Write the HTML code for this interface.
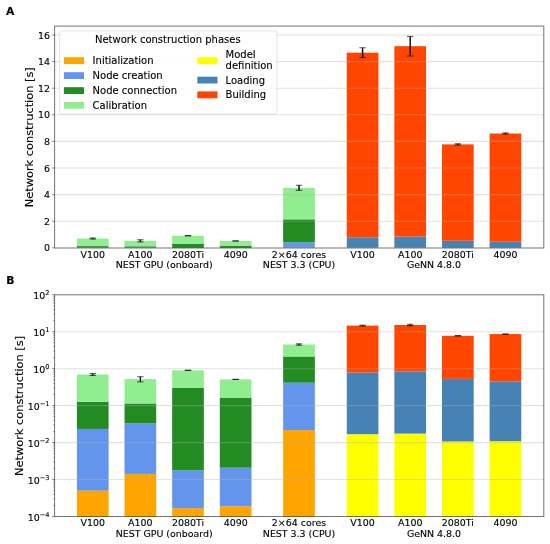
<!DOCTYPE html>
<html lang="en">
<head>
<meta charset="utf-8">
<title>Network construction phases</title>
<style>
html,body{margin:0;padding:0;background:#fff;}
body{width:550px;height:544px;overflow:hidden;}
svg{display:block;filter:blur(0.3px);}
text{font-family:"DejaVu Sans", "Liberation Sans", sans-serif;stroke:#000;stroke-width:0.12px;}
</style>
</head>
<body>
<svg width="550" height="544" viewBox="0 0 550 544" font-family='"DejaVu Sans", "Liberation Sans", sans-serif' fill="#000">
<rect width="550" height="544" fill="#fff"/>
<g id="top">
<rect x="76.90" y="247.79" width="31.70" height="0.01" fill="#FFA500" />
<rect x="76.90" y="247.49" width="31.70" height="0.30" fill="#6495ED" />
<rect x="76.90" y="246.11" width="31.70" height="1.38" fill="#228B22" />
<rect x="76.90" y="238.53" width="31.70" height="7.58" fill="#90EE90" />
<rect x="124.50" y="247.78" width="31.70" height="0.02" fill="#FFA500" />
<rect x="124.50" y="247.36" width="31.70" height="0.42" fill="#6495ED" />
<rect x="124.50" y="246.28" width="31.70" height="1.08" fill="#228B22" />
<rect x="124.50" y="240.84" width="31.70" height="5.44" fill="#90EE90" />
<rect x="172.15" y="247.80" width="31.70" height="0.00" fill="#FFA500" />
<rect x="172.15" y="247.78" width="31.70" height="0.02" fill="#6495ED" />
<rect x="172.15" y="243.73" width="31.70" height="4.05" fill="#228B22" />
<rect x="172.15" y="235.76" width="31.70" height="7.97" fill="#90EE90" />
<rect x="219.80" y="247.80" width="31.70" height="0.00" fill="#FFA500" />
<rect x="219.80" y="247.77" width="31.70" height="0.03" fill="#6495ED" />
<rect x="219.80" y="245.64" width="31.70" height="2.13" fill="#228B22" />
<rect x="219.80" y="240.97" width="31.70" height="4.67" fill="#90EE90" />
<rect x="283.15" y="247.51" width="31.70" height="0.29" fill="#FFA500" />
<rect x="283.15" y="242.24" width="31.70" height="5.27" fill="#6495ED" />
<rect x="283.15" y="219.35" width="31.70" height="22.89" fill="#228B22" />
<rect x="283.15" y="187.80" width="31.70" height="31.55" fill="#90EE90" />
<rect x="346.75" y="247.58" width="31.70" height="0.22" fill="#FFFF00" />
<rect x="346.75" y="237.30" width="31.70" height="10.27" fill="#4682B4" />
<rect x="346.75" y="52.70" width="31.70" height="184.60" fill="#FF4500" />
<rect x="394.35" y="247.57" width="31.70" height="0.23" fill="#FFFF00" />
<rect x="394.35" y="236.56" width="31.70" height="11.01" fill="#4682B4" />
<rect x="394.35" y="46.20" width="31.70" height="190.36" fill="#FF4500" />
<rect x="442.00" y="247.66" width="31.70" height="0.14" fill="#FFFF00" />
<rect x="442.00" y="240.76" width="31.70" height="6.90" fill="#4682B4" />
<rect x="442.00" y="144.40" width="31.70" height="96.36" fill="#FF4500" />
<rect x="489.60" y="247.65" width="31.70" height="0.15" fill="#FFFF00" />
<rect x="489.60" y="241.73" width="31.70" height="5.92" fill="#4682B4" />
<rect x="489.60" y="133.50" width="31.70" height="108.23" fill="#FF4500" />
<line x1="54.60" y1="221.20" x2="543.80" y2="221.20" stroke="#b0b0b0" stroke-width="1.1" stroke-opacity="0.37"/>
<line x1="54.60" y1="194.60" x2="543.80" y2="194.60" stroke="#b0b0b0" stroke-width="1.1" stroke-opacity="0.37"/>
<line x1="54.60" y1="168.00" x2="543.80" y2="168.00" stroke="#b0b0b0" stroke-width="1.1" stroke-opacity="0.37"/>
<line x1="54.60" y1="141.40" x2="543.80" y2="141.40" stroke="#b0b0b0" stroke-width="1.1" stroke-opacity="0.37"/>
<line x1="54.60" y1="114.80" x2="543.80" y2="114.80" stroke="#b0b0b0" stroke-width="1.1" stroke-opacity="0.37"/>
<line x1="54.60" y1="88.20" x2="543.80" y2="88.20" stroke="#b0b0b0" stroke-width="1.1" stroke-opacity="0.37"/>
<line x1="54.60" y1="61.60" x2="543.80" y2="61.60" stroke="#b0b0b0" stroke-width="1.1" stroke-opacity="0.37"/>
<line x1="54.60" y1="35.00" x2="543.80" y2="35.00" stroke="#b0b0b0" stroke-width="1.1" stroke-opacity="0.37"/>
<line x1="92.75" y1="239.07" x2="92.75" y2="238.00" stroke="#000" stroke-width="1.4" />
<line x1="89.55" y1="239.07" x2="95.95" y2="239.07" stroke="#000" stroke-width="0.8" stroke-opacity="0.85"/>
<line x1="89.55" y1="238.00" x2="95.95" y2="238.00" stroke="#000" stroke-width="0.8" stroke-opacity="0.85"/>
<line x1="140.35" y1="241.93" x2="140.35" y2="239.75" stroke="#000" stroke-width="1.4" />
<line x1="137.15" y1="241.93" x2="143.55" y2="241.93" stroke="#000" stroke-width="0.8" stroke-opacity="0.85"/>
<line x1="137.15" y1="239.75" x2="143.55" y2="239.75" stroke="#000" stroke-width="0.8" stroke-opacity="0.85"/>
<line x1="184.80" y1="235.84" x2="191.20" y2="235.84" stroke="#000" stroke-width="0.8" stroke-opacity="0.85"/>
<line x1="184.80" y1="235.68" x2="191.20" y2="235.68" stroke="#000" stroke-width="0.8" stroke-opacity="0.85"/>
<line x1="232.45" y1="241.03" x2="238.85" y2="241.03" stroke="#000" stroke-width="0.8" stroke-opacity="0.85"/>
<line x1="232.45" y1="240.92" x2="238.85" y2="240.92" stroke="#000" stroke-width="0.8" stroke-opacity="0.85"/>
<line x1="299.00" y1="190.33" x2="299.00" y2="185.27" stroke="#000" stroke-width="1.4" />
<line x1="295.80" y1="190.33" x2="302.20" y2="190.33" stroke="#000" stroke-width="0.8" stroke-opacity="0.85"/>
<line x1="295.80" y1="185.27" x2="302.20" y2="185.27" stroke="#000" stroke-width="0.8" stroke-opacity="0.85"/>
<line x1="362.60" y1="57.62" x2="362.60" y2="47.78" stroke="#000" stroke-width="1.4" />
<line x1="359.40" y1="57.62" x2="365.80" y2="57.62" stroke="#000" stroke-width="0.8" stroke-opacity="0.85"/>
<line x1="359.40" y1="47.78" x2="365.80" y2="47.78" stroke="#000" stroke-width="0.8" stroke-opacity="0.85"/>
<line x1="410.20" y1="56.00" x2="410.20" y2="36.40" stroke="#000" stroke-width="1.4" />
<line x1="407.00" y1="56.00" x2="413.40" y2="56.00" stroke="#000" stroke-width="0.8" stroke-opacity="0.85"/>
<line x1="407.00" y1="36.40" x2="413.40" y2="36.40" stroke="#000" stroke-width="0.8" stroke-opacity="0.85"/>
<line x1="457.85" y1="145.06" x2="457.85" y2="143.74" stroke="#000" stroke-width="1.4" />
<line x1="454.65" y1="145.06" x2="461.05" y2="145.06" stroke="#000" stroke-width="0.8" stroke-opacity="0.85"/>
<line x1="454.65" y1="143.74" x2="461.05" y2="143.74" stroke="#000" stroke-width="0.8" stroke-opacity="0.85"/>
<line x1="505.45" y1="134.10" x2="505.45" y2="132.90" stroke="#000" stroke-width="1.4" />
<line x1="502.25" y1="134.10" x2="508.65" y2="134.10" stroke="#000" stroke-width="0.8" stroke-opacity="0.85"/>
<line x1="502.25" y1="132.90" x2="508.65" y2="132.90" stroke="#000" stroke-width="0.8" stroke-opacity="0.85"/>
<line x1="52.20" y1="247.80" x2="54.60" y2="247.80" stroke="#000" stroke-width="0.8" stroke-opacity="0.6"/>
<text x="50.10" y="251.40" font-size="9.45" text-anchor="end" >0</text>
<line x1="52.20" y1="221.20" x2="54.60" y2="221.20" stroke="#000" stroke-width="0.8" stroke-opacity="0.6"/>
<text x="50.10" y="224.80" font-size="9.45" text-anchor="end" >2</text>
<line x1="52.20" y1="194.60" x2="54.60" y2="194.60" stroke="#000" stroke-width="0.8" stroke-opacity="0.6"/>
<text x="50.10" y="198.20" font-size="9.45" text-anchor="end" >4</text>
<line x1="52.20" y1="168.00" x2="54.60" y2="168.00" stroke="#000" stroke-width="0.8" stroke-opacity="0.6"/>
<text x="50.10" y="171.60" font-size="9.45" text-anchor="end" >6</text>
<line x1="52.20" y1="141.40" x2="54.60" y2="141.40" stroke="#000" stroke-width="0.8" stroke-opacity="0.6"/>
<text x="50.10" y="145.00" font-size="9.45" text-anchor="end" >8</text>
<line x1="52.20" y1="114.80" x2="54.60" y2="114.80" stroke="#000" stroke-width="0.8" stroke-opacity="0.6"/>
<text x="50.10" y="118.40" font-size="9.45" text-anchor="end" >10</text>
<line x1="52.20" y1="88.20" x2="54.60" y2="88.20" stroke="#000" stroke-width="0.8" stroke-opacity="0.6"/>
<text x="50.10" y="91.80" font-size="9.45" text-anchor="end" >12</text>
<line x1="52.20" y1="61.60" x2="54.60" y2="61.60" stroke="#000" stroke-width="0.8" stroke-opacity="0.6"/>
<text x="50.10" y="65.20" font-size="9.45" text-anchor="end" >14</text>
<line x1="52.20" y1="35.00" x2="54.60" y2="35.00" stroke="#000" stroke-width="0.8" stroke-opacity="0.6"/>
<text x="50.10" y="38.60" font-size="9.45" text-anchor="end" >16</text>
<rect x="54.60" y="26.10" width="489.20" height="221.90" fill="none" stroke="#000" stroke-width="1.0" stroke-opacity="0.55"/>
</g>
<rect x="59.7" y="30.9" width="217.20" height="83.10" rx="2" ry="2" fill="#fff" fill-opacity="0.87" stroke="#ccc" stroke-opacity="0.5" stroke-width="1"/>
<text x="167.80" y="42.80" font-size="10" text-anchor="middle" >Network construction phases</text>
<rect x="63.90" y="57.20" width="20.10" height="6.80" fill="#FFA500" />
<text x="92.60" y="63.90" font-size="10" text-anchor="start" >Initialization</text>
<rect x="63.90" y="72.20" width="20.10" height="6.80" fill="#6495ED" />
<text x="92.60" y="78.90" font-size="10" text-anchor="start" >Node creation</text>
<rect x="63.90" y="87.20" width="20.10" height="6.80" fill="#228B22" />
<text x="92.60" y="93.90" font-size="10" text-anchor="start" >Node connection</text>
<rect x="63.90" y="101.90" width="20.10" height="6.80" fill="#90EE90" />
<text x="92.60" y="108.60" font-size="10" text-anchor="start" >Calibration</text>
<rect x="197.30" y="57.30" width="20.20" height="6.70" fill="#FFFF00" />
<text x="225.60" y="57.60" font-size="10" text-anchor="start" >Model</text>
<text x="225.60" y="69.00" font-size="10" text-anchor="start" >definition</text>
<rect x="197.30" y="76.70" width="20.20" height="6.80" fill="#4682B4" />
<text x="225.60" y="83.50" font-size="10" text-anchor="start" >Loading</text>
<rect x="197.30" y="91.40" width="20.20" height="6.90" fill="#FF4500" />
<text x="225.60" y="98.30" font-size="10" text-anchor="start" >Building</text>
<text x="92.75" y="257.60" font-size="9.45" text-anchor="middle" >V100</text>
<text x="140.35" y="257.60" font-size="9.45" text-anchor="middle" >A100</text>
<text x="188.00" y="257.60" font-size="9.45" text-anchor="middle" >2080Ti</text>
<text x="235.65" y="257.60" font-size="9.45" text-anchor="middle" >4090</text>
<text x="299.00" y="257.60" font-size="9.45" text-anchor="middle" >2×64 cores</text>
<text x="362.60" y="257.60" font-size="9.45" text-anchor="middle" >V100</text>
<text x="410.20" y="257.60" font-size="9.45" text-anchor="middle" >A100</text>
<text x="457.85" y="257.60" font-size="9.45" text-anchor="middle" >2080Ti</text>
<text x="505.45" y="257.60" font-size="9.45" text-anchor="middle" >4090</text>
<text x="164.18" y="268.40" font-size="9.45" text-anchor="middle" >NEST GPU (onboard)</text>
<text x="299.00" y="268.40" font-size="9.45" text-anchor="middle" >NEST 3.3 (CPU)</text>
<text x="434.02" y="268.40" font-size="9.45" text-anchor="middle" >GeNN 4.8.0</text>
<text transform="translate(32.6,137.25) rotate(-90)" font-size="11.36" text-anchor="middle">Network construction [s]</text>
<text x="6.08" y="15.2" font-size="10.8" font-weight="bold">A</text>
<text x="6.3" y="283.9" font-size="10.8" font-weight="bold">B</text>
<g id="bottom">
<rect x="76.90" y="490.70" width="31.70" height="25.80" fill="#FFA500" />
<rect x="76.90" y="428.95" width="31.70" height="61.75" fill="#6495ED" />
<rect x="76.90" y="401.80" width="31.70" height="27.15" fill="#228B22" />
<rect x="76.90" y="374.50" width="31.70" height="27.30" fill="#90EE90" />
<rect x="124.50" y="473.90" width="31.70" height="42.60" fill="#FFA500" />
<rect x="124.50" y="423.30" width="31.70" height="50.60" fill="#6495ED" />
<rect x="124.50" y="403.50" width="31.70" height="19.80" fill="#228B22" />
<rect x="124.50" y="379.10" width="31.70" height="24.40" fill="#90EE90" />
<rect x="172.15" y="508.10" width="31.70" height="8.40" fill="#FFA500" />
<rect x="172.15" y="470.30" width="31.70" height="37.80" fill="#6495ED" />
<rect x="172.15" y="387.70" width="31.70" height="82.60" fill="#228B22" />
<rect x="172.15" y="370.30" width="31.70" height="17.40" fill="#90EE90" />
<rect x="219.80" y="506.30" width="31.70" height="10.20" fill="#FFA500" />
<rect x="219.80" y="467.70" width="31.70" height="38.60" fill="#6495ED" />
<rect x="219.80" y="397.90" width="31.70" height="69.80" fill="#228B22" />
<rect x="219.80" y="379.40" width="31.70" height="18.50" fill="#90EE90" />
<rect x="283.15" y="430.10" width="31.70" height="86.40" fill="#FFA500" />
<rect x="283.15" y="382.70" width="31.70" height="47.40" fill="#6495ED" />
<rect x="283.15" y="356.50" width="31.70" height="26.20" fill="#228B22" />
<rect x="283.15" y="344.50" width="31.70" height="12.00" fill="#90EE90" />
<rect x="346.75" y="434.20" width="31.70" height="82.30" fill="#FFFF00" />
<rect x="346.75" y="372.50" width="31.70" height="61.70" fill="#4682B4" />
<rect x="346.75" y="325.60" width="31.70" height="46.90" fill="#FF4500" />
<rect x="394.35" y="433.60" width="31.70" height="82.90" fill="#FFFF00" />
<rect x="394.35" y="371.40" width="31.70" height="62.20" fill="#4682B4" />
<rect x="394.35" y="325.00" width="31.70" height="46.40" fill="#FF4500" />
<rect x="442.00" y="441.50" width="31.70" height="75.00" fill="#FFFF00" />
<rect x="442.00" y="378.90" width="31.70" height="62.60" fill="#4682B4" />
<rect x="442.00" y="335.80" width="31.70" height="43.10" fill="#FF4500" />
<rect x="489.60" y="441.20" width="31.70" height="75.30" fill="#FFFF00" />
<rect x="489.60" y="381.30" width="31.70" height="59.90" fill="#4682B4" />
<rect x="489.60" y="334.10" width="31.70" height="47.20" fill="#FF4500" />
<line x1="54.60" y1="479.55" x2="543.80" y2="479.55" stroke="#b0b0b0" stroke-width="1.1" stroke-opacity="0.37"/>
<line x1="54.60" y1="442.60" x2="543.80" y2="442.60" stroke="#b0b0b0" stroke-width="1.1" stroke-opacity="0.37"/>
<line x1="54.60" y1="405.65" x2="543.80" y2="405.65" stroke="#b0b0b0" stroke-width="1.1" stroke-opacity="0.37"/>
<line x1="54.60" y1="368.70" x2="543.80" y2="368.70" stroke="#b0b0b0" stroke-width="1.1" stroke-opacity="0.37"/>
<line x1="54.60" y1="331.75" x2="543.80" y2="331.75" stroke="#b0b0b0" stroke-width="1.1" stroke-opacity="0.37"/>
<line x1="92.75" y1="375.45" x2="92.75" y2="373.60" stroke="#000" stroke-width="1.3" />
<line x1="89.55" y1="375.45" x2="95.95" y2="375.45" stroke="#000" stroke-width="0.8" stroke-opacity="0.85"/>
<line x1="89.55" y1="373.60" x2="95.95" y2="373.60" stroke="#000" stroke-width="0.8" stroke-opacity="0.85"/>
<line x1="140.35" y1="381.84" x2="140.35" y2="376.76" stroke="#000" stroke-width="1.3" />
<line x1="137.15" y1="381.84" x2="143.55" y2="381.84" stroke="#000" stroke-width="0.8" stroke-opacity="0.85"/>
<line x1="137.15" y1="376.76" x2="143.55" y2="376.76" stroke="#000" stroke-width="0.8" stroke-opacity="0.85"/>
<line x1="184.80" y1="370.41" x2="191.20" y2="370.41" stroke="#000" stroke-width="0.8" stroke-opacity="0.85"/>
<line x1="184.80" y1="370.19" x2="191.20" y2="370.19" stroke="#000" stroke-width="0.8" stroke-opacity="0.85"/>
<line x1="232.45" y1="379.53" x2="238.85" y2="379.53" stroke="#000" stroke-width="0.8" stroke-opacity="0.85"/>
<line x1="232.45" y1="379.28" x2="238.85" y2="379.28" stroke="#000" stroke-width="0.8" stroke-opacity="0.85"/>
<line x1="299.00" y1="345.19" x2="299.00" y2="343.84" stroke="#000" stroke-width="1.3" />
<line x1="295.80" y1="345.19" x2="302.20" y2="345.19" stroke="#000" stroke-width="0.8" stroke-opacity="0.85"/>
<line x1="295.80" y1="343.84" x2="302.20" y2="343.84" stroke="#000" stroke-width="0.8" stroke-opacity="0.85"/>
<line x1="362.60" y1="326.01" x2="362.60" y2="325.20" stroke="#000" stroke-width="1.3" />
<line x1="359.40" y1="326.01" x2="365.80" y2="326.01" stroke="#000" stroke-width="0.8" stroke-opacity="0.85"/>
<line x1="359.40" y1="325.20" x2="365.80" y2="325.20" stroke="#000" stroke-width="0.8" stroke-opacity="0.85"/>
<line x1="410.20" y1="325.80" x2="410.20" y2="324.24" stroke="#000" stroke-width="1.3" />
<line x1="407.00" y1="325.80" x2="413.40" y2="325.80" stroke="#000" stroke-width="0.8" stroke-opacity="0.85"/>
<line x1="407.00" y1="324.24" x2="413.40" y2="324.24" stroke="#000" stroke-width="0.8" stroke-opacity="0.85"/>
<line x1="454.65" y1="335.90" x2="461.05" y2="335.90" stroke="#000" stroke-width="0.8" stroke-opacity="0.85"/>
<line x1="454.65" y1="335.70" x2="461.05" y2="335.70" stroke="#000" stroke-width="0.8" stroke-opacity="0.85"/>
<line x1="502.25" y1="334.18" x2="508.65" y2="334.18" stroke="#000" stroke-width="0.8" stroke-opacity="0.85"/>
<line x1="502.25" y1="334.02" x2="508.65" y2="334.02" stroke="#000" stroke-width="0.8" stroke-opacity="0.85"/>
<line x1="52.20" y1="516.50" x2="54.60" y2="516.50" stroke="#000" stroke-width="0.8" stroke-opacity="0.6"/>
<text x="49.40" y="520.50" font-size="9.45" text-anchor="end">10<tspan font-size="6.61" dy="-4.0">−4</tspan></text>
<line x1="53.10" y1="505.38" x2="54.60" y2="505.38" stroke="#000" stroke-width="0.6" stroke-opacity="0.6"/>
<line x1="53.10" y1="498.87" x2="54.60" y2="498.87" stroke="#000" stroke-width="0.6" stroke-opacity="0.6"/>
<line x1="53.10" y1="494.25" x2="54.60" y2="494.25" stroke="#000" stroke-width="0.6" stroke-opacity="0.6"/>
<line x1="53.10" y1="490.67" x2="54.60" y2="490.67" stroke="#000" stroke-width="0.6" stroke-opacity="0.6"/>
<line x1="53.10" y1="487.75" x2="54.60" y2="487.75" stroke="#000" stroke-width="0.6" stroke-opacity="0.6"/>
<line x1="53.10" y1="485.27" x2="54.60" y2="485.27" stroke="#000" stroke-width="0.6" stroke-opacity="0.6"/>
<line x1="53.10" y1="483.13" x2="54.60" y2="483.13" stroke="#000" stroke-width="0.6" stroke-opacity="0.6"/>
<line x1="53.10" y1="481.24" x2="54.60" y2="481.24" stroke="#000" stroke-width="0.6" stroke-opacity="0.6"/>
<line x1="52.20" y1="479.55" x2="54.60" y2="479.55" stroke="#000" stroke-width="0.8" stroke-opacity="0.6"/>
<text x="49.40" y="483.55" font-size="9.45" text-anchor="end">10<tspan font-size="6.61" dy="-4.0">−3</tspan></text>
<line x1="53.10" y1="468.43" x2="54.60" y2="468.43" stroke="#000" stroke-width="0.6" stroke-opacity="0.6"/>
<line x1="53.10" y1="461.92" x2="54.60" y2="461.92" stroke="#000" stroke-width="0.6" stroke-opacity="0.6"/>
<line x1="53.10" y1="457.30" x2="54.60" y2="457.30" stroke="#000" stroke-width="0.6" stroke-opacity="0.6"/>
<line x1="53.10" y1="453.72" x2="54.60" y2="453.72" stroke="#000" stroke-width="0.6" stroke-opacity="0.6"/>
<line x1="53.10" y1="450.80" x2="54.60" y2="450.80" stroke="#000" stroke-width="0.6" stroke-opacity="0.6"/>
<line x1="53.10" y1="448.32" x2="54.60" y2="448.32" stroke="#000" stroke-width="0.6" stroke-opacity="0.6"/>
<line x1="53.10" y1="446.18" x2="54.60" y2="446.18" stroke="#000" stroke-width="0.6" stroke-opacity="0.6"/>
<line x1="53.10" y1="444.29" x2="54.60" y2="444.29" stroke="#000" stroke-width="0.6" stroke-opacity="0.6"/>
<line x1="52.20" y1="442.60" x2="54.60" y2="442.60" stroke="#000" stroke-width="0.8" stroke-opacity="0.6"/>
<text x="49.40" y="446.60" font-size="9.45" text-anchor="end">10<tspan font-size="6.61" dy="-4.0">−2</tspan></text>
<line x1="53.10" y1="431.48" x2="54.60" y2="431.48" stroke="#000" stroke-width="0.6" stroke-opacity="0.6"/>
<line x1="53.10" y1="424.97" x2="54.60" y2="424.97" stroke="#000" stroke-width="0.6" stroke-opacity="0.6"/>
<line x1="53.10" y1="420.35" x2="54.60" y2="420.35" stroke="#000" stroke-width="0.6" stroke-opacity="0.6"/>
<line x1="53.10" y1="416.77" x2="54.60" y2="416.77" stroke="#000" stroke-width="0.6" stroke-opacity="0.6"/>
<line x1="53.10" y1="413.85" x2="54.60" y2="413.85" stroke="#000" stroke-width="0.6" stroke-opacity="0.6"/>
<line x1="53.10" y1="411.37" x2="54.60" y2="411.37" stroke="#000" stroke-width="0.6" stroke-opacity="0.6"/>
<line x1="53.10" y1="409.23" x2="54.60" y2="409.23" stroke="#000" stroke-width="0.6" stroke-opacity="0.6"/>
<line x1="53.10" y1="407.34" x2="54.60" y2="407.34" stroke="#000" stroke-width="0.6" stroke-opacity="0.6"/>
<line x1="52.20" y1="405.65" x2="54.60" y2="405.65" stroke="#000" stroke-width="0.8" stroke-opacity="0.6"/>
<text x="49.40" y="409.65" font-size="9.45" text-anchor="end">10<tspan font-size="6.61" dy="-4.0">−1</tspan></text>
<line x1="53.10" y1="394.53" x2="54.60" y2="394.53" stroke="#000" stroke-width="0.6" stroke-opacity="0.6"/>
<line x1="53.10" y1="388.02" x2="54.60" y2="388.02" stroke="#000" stroke-width="0.6" stroke-opacity="0.6"/>
<line x1="53.10" y1="383.40" x2="54.60" y2="383.40" stroke="#000" stroke-width="0.6" stroke-opacity="0.6"/>
<line x1="53.10" y1="379.82" x2="54.60" y2="379.82" stroke="#000" stroke-width="0.6" stroke-opacity="0.6"/>
<line x1="53.10" y1="376.90" x2="54.60" y2="376.90" stroke="#000" stroke-width="0.6" stroke-opacity="0.6"/>
<line x1="53.10" y1="374.42" x2="54.60" y2="374.42" stroke="#000" stroke-width="0.6" stroke-opacity="0.6"/>
<line x1="53.10" y1="372.28" x2="54.60" y2="372.28" stroke="#000" stroke-width="0.6" stroke-opacity="0.6"/>
<line x1="53.10" y1="370.39" x2="54.60" y2="370.39" stroke="#000" stroke-width="0.6" stroke-opacity="0.6"/>
<line x1="52.20" y1="368.70" x2="54.60" y2="368.70" stroke="#000" stroke-width="0.8" stroke-opacity="0.6"/>
<text x="49.40" y="372.70" font-size="9.45" text-anchor="end">10<tspan font-size="6.61" dy="-4.0">0</tspan></text>
<line x1="53.10" y1="357.58" x2="54.60" y2="357.58" stroke="#000" stroke-width="0.6" stroke-opacity="0.6"/>
<line x1="53.10" y1="351.07" x2="54.60" y2="351.07" stroke="#000" stroke-width="0.6" stroke-opacity="0.6"/>
<line x1="53.10" y1="346.45" x2="54.60" y2="346.45" stroke="#000" stroke-width="0.6" stroke-opacity="0.6"/>
<line x1="53.10" y1="342.87" x2="54.60" y2="342.87" stroke="#000" stroke-width="0.6" stroke-opacity="0.6"/>
<line x1="53.10" y1="339.95" x2="54.60" y2="339.95" stroke="#000" stroke-width="0.6" stroke-opacity="0.6"/>
<line x1="53.10" y1="337.47" x2="54.60" y2="337.47" stroke="#000" stroke-width="0.6" stroke-opacity="0.6"/>
<line x1="53.10" y1="335.33" x2="54.60" y2="335.33" stroke="#000" stroke-width="0.6" stroke-opacity="0.6"/>
<line x1="53.10" y1="333.44" x2="54.60" y2="333.44" stroke="#000" stroke-width="0.6" stroke-opacity="0.6"/>
<line x1="52.20" y1="331.75" x2="54.60" y2="331.75" stroke="#000" stroke-width="0.8" stroke-opacity="0.6"/>
<text x="49.40" y="335.75" font-size="9.45" text-anchor="end">10<tspan font-size="6.61" dy="-4.0">1</tspan></text>
<line x1="53.10" y1="320.63" x2="54.60" y2="320.63" stroke="#000" stroke-width="0.6" stroke-opacity="0.6"/>
<line x1="53.10" y1="314.12" x2="54.60" y2="314.12" stroke="#000" stroke-width="0.6" stroke-opacity="0.6"/>
<line x1="53.10" y1="309.50" x2="54.60" y2="309.50" stroke="#000" stroke-width="0.6" stroke-opacity="0.6"/>
<line x1="53.10" y1="305.92" x2="54.60" y2="305.92" stroke="#000" stroke-width="0.6" stroke-opacity="0.6"/>
<line x1="53.10" y1="303.00" x2="54.60" y2="303.00" stroke="#000" stroke-width="0.6" stroke-opacity="0.6"/>
<line x1="53.10" y1="300.52" x2="54.60" y2="300.52" stroke="#000" stroke-width="0.6" stroke-opacity="0.6"/>
<line x1="53.10" y1="298.38" x2="54.60" y2="298.38" stroke="#000" stroke-width="0.6" stroke-opacity="0.6"/>
<line x1="53.10" y1="296.49" x2="54.60" y2="296.49" stroke="#000" stroke-width="0.6" stroke-opacity="0.6"/>
<line x1="52.20" y1="294.80" x2="54.60" y2="294.80" stroke="#000" stroke-width="0.8" stroke-opacity="0.6"/>
<text x="49.40" y="298.80" font-size="9.45" text-anchor="end">10<tspan font-size="6.61" dy="-4.0">2</tspan></text>
<rect x="54.60" y="294.80" width="489.20" height="221.70" fill="none" stroke="#000" stroke-width="1.0" stroke-opacity="0.55"/>
</g>
<text x="92.75" y="526.40" font-size="9.45" text-anchor="middle" >V100</text>
<text x="140.35" y="526.40" font-size="9.45" text-anchor="middle" >A100</text>
<text x="188.00" y="526.40" font-size="9.45" text-anchor="middle" >2080Ti</text>
<text x="235.65" y="526.40" font-size="9.45" text-anchor="middle" >4090</text>
<text x="299.00" y="526.40" font-size="9.45" text-anchor="middle" >2×64 cores</text>
<text x="362.60" y="526.40" font-size="9.45" text-anchor="middle" >V100</text>
<text x="410.20" y="526.40" font-size="9.45" text-anchor="middle" >A100</text>
<text x="457.85" y="526.40" font-size="9.45" text-anchor="middle" >2080Ti</text>
<text x="505.45" y="526.40" font-size="9.45" text-anchor="middle" >4090</text>
<text x="164.18" y="537.20" font-size="9.45" text-anchor="middle" >NEST GPU (onboard)</text>
<text x="299.00" y="537.20" font-size="9.45" text-anchor="middle" >NEST 3.3 (CPU)</text>
<text x="434.02" y="537.20" font-size="9.45" text-anchor="middle" >GeNN 4.8.0</text>
<text transform="translate(22.6,405.95) rotate(-90)" font-size="11.36" text-anchor="middle">Network construction [s]</text>
</svg>
</body>
</html>
